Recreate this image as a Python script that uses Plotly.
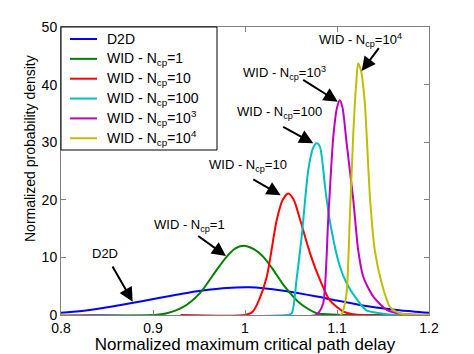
import plotly.graph_objects as go

# ---- data ----
d2d_x = [0.80, 0.82, 0.835, 0.871, 0.9076, 0.944, 0.96, 0.98, 1.005, 1.02, 1.042, 1.078, 1.10, 1.125, 1.147, 1.17, 1.20]
d2d_y = [0.4, 0.65, 0.95, 1.9, 3.0, 4.05, 4.4, 4.7, 4.8, 4.65, 4.2, 3.2, 2.5, 1.75, 1.2, 0.8, 0.4]

n1_x = [0.80, 0.90, 0.915, 0.933, 0.951, 0.969, 0.980, 0.990, 1.000, 1.010, 1.020, 1.030, 1.042, 1.060, 1.078, 1.100, 1.20]
n1_y = [0.0, 0.0, 0.3, 1.4, 3.8, 7.8, 10.1, 11.6, 12.0, 11.4, 10.1, 8.0, 5.2, 2.0, 0.3, 0.05, 0.0]

n10_x = [0.93, 1.000, 1.008, 1.015, 1.0236, 1.0345, 1.041, 1.047, 1.053, 1.060, 1.0707, 1.0815, 1.092, 1.107, 1.120, 1.20]
n10_y = [0.0, 0.0, 0.5, 2.5, 6.6, 16.5, 20.0, 21.1, 20.0, 16.5, 10.7, 6.1, 2.6, 0.6, 0.1, 0.0]

n100_x = [0.80, 1.045, 1.0507, 1.056, 1.0616, 1.0688, 1.074, 1.078, 1.0815, 1.087, 1.092, 1.103, 1.1105, 1.125, 1.132, 1.147, 1.160, 1.20]
n100_y = [0.0, 0.0, 0.3, 6.1, 13.6, 25.2, 29.0, 29.8, 29.2, 22.3, 16.5, 8.5, 5.5, 2.0, 0.8, 0.3, 0.05, 0.0]

n1e3_x = [0.80, 1.078, 1.0797, 1.085, 1.0906, 1.096, 1.100, 1.103, 1.106, 1.1105, 1.1177, 1.123, 1.1286, 1.1395, 1.154, 1.170, 1.20]
n1e3_y = [0.0, 0.0, 0.3, 2.0, 17.1, 31.0, 36.0, 37.3, 36.0, 29.8, 20.0, 11.3, 6.6, 3.2, 0.9, 0.2, 0.0]

n1e4_x = [0.80, 1.104, 1.107, 1.1105, 1.114, 1.1177, 1.121, 1.123, 1.126, 1.130, 1.136, 1.141, 1.1486, 1.1576, 1.168, 1.180, 1.20]
n1e4_y = [0.0, 0.0, 1.0, 4.0, 17.1, 31.5, 40.5, 43.7, 42.5, 37.3, 20.0, 11.3, 5.5, 1.4, 0.3, 0.05, 0.0]

names = ["D2D", "WID - N<sub>cp</sub>=1", "WID - N<sub>cp</sub>=10", "WID - N<sub>cp</sub>=100",
         "WID - N<sub>cp</sub>=10<sup>3</sup>", "WID - N<sub>cp</sub>=10<sup>4</sup>"]
colors = ["rgb(0,0,255)", "rgb(0,128,0)", "rgb(255,0,0)", "rgb(0,191,191)", "rgb(191,0,191)", "rgb(191,191,0)"]
series = [(d2d_x, d2d_y), (n1_x, n1_y), (n10_x, n10_y), (n100_x, n100_y), (n1e3_x, n1e3_y), (n1e4_x, n1e4_y)]

# annotation: (text, text_x, text_y, tail_x, tail_y, tip_x, tip_y)
annots = [
    ("D2D", 0.8478, 10.6, 0.8551, 8.68, 0.8779, 2.31),
    ("WID - N<sub>cp</sub>=1", 0.9402, 15.6, 0.9475, 13.9, 0.9793, 10.24),
    ("WID - N<sub>cp</sub>=10", 1.0033, 26.0, 1.0073, 23.7, 1.0388, 20.8),
    ("WID - N<sub>cp</sub>=100", 1.037, 35.1, 1.0399, 32.8, 1.0742, 29.8),
    ("WID - N<sub>cp</sub>=10<sup>3</sup>", 1.0424, 42.07, 1.0616, 40.97, 1.1008, 37.03),
    ("WID - N<sub>cp</sub>=10<sup>4</sup>", 1.1258, 47.74, 1.1467, 46.58, 1.1268, 42.36),
]

fig = go.Figure()
for (xs, ys), nm, c in zip(series, names, colors):
    fig.add_trace(go.Scatter(x=xs, y=ys, mode="lines", name=nm, showlegend=False,
                             line=dict(color=c, width=2, shape="spline", smoothing=0.7)))

for txt, tx, ty, ax, ay, px, py in annots:
    fig.add_annotation(x=tx, y=ty, xref="x", yref="y", text=txt, showarrow=False,
                       font=dict(size=13, color="black"))
    fig.add_annotation(x=px, y=py, xref="x", yref="y", ax=ax, ay=ay, axref="x", ayref="y",
                       text="", showarrow=True, arrowhead=2, arrowsize=1.4, arrowwidth=2,
                       arrowcolor="black")

# ---- legend box drawn in paper coordinates (plot area: 368 x 288 px) ----
PW, PH = 368.0, 288.0
def px_x(dx):
    return dx / PW
def px_y(dy):
    return 1 - dy / PH

fig.add_shape(type="rect", xref="paper", yref="paper", x0=0, x1=px_x(156), y0=px_y(123), y1=1,
              line=dict(color="black", width=1), fillcolor="white", layer="above")
for i, (nm, c) in enumerate(zip(names, colors)):
    ly = px_y(12 + i * 19.85)
    fig.add_shape(type="line", xref="paper", yref="paper", x0=px_x(9), x1=px_x(36), y0=ly, y1=ly,
                  line=dict(color=c, width=2), layer="above")
    fig.add_annotation(xref="paper", yref="paper", x=px_x(44), y=ly, text=nm, showarrow=False,
                       xanchor="left", yanchor="middle", font=dict(size=14, color="black"))

# y-axis title as text placed next to the axis
fig.add_annotation(xref="paper", yref="paper", x=px_x(-31), y=px_y(122), text="Normalized probability density",
                   textangle=-90, showarrow=False, xanchor="center", yanchor="middle",
                   font=dict(size=14, color="black"))

font_family = "Liberation Sans, Arial, sans-serif"
fig.update_layout(
    width=474, height=354,
    margin=dict(l=61, r=45, t=27, b=39, autoexpand=False),
    paper_bgcolor="white", plot_bgcolor="white",
    font=dict(family=font_family, size=14, color="black"),
    showlegend=False,
    xaxis=dict(range=[0.8, 1.2], tickvals=[0.8, 0.9, 1.0, 1.1, 1.2],
               ticktext=["0.8", "0.9", "1", "1.1", "1.2"], automargin=False,
               ticks="inside", ticklen=5, tickcolor="#808080", showline=True,
               linecolor="#808080", linewidth=1, mirror="ticks", showgrid=False, zeroline=False,
               title=dict(text="Normalized maximum critical path delay", standoff=2)),
    yaxis=dict(range=[0, 50], tickvals=[0, 10, 20, 30, 40, 50], automargin=False,
               ticks="inside", ticklen=5, tickcolor="#808080", showline=True,
               linecolor="#808080", linewidth=1, mirror="ticks", showgrid=False, zeroline=False),
)

fig.write_html("out.html")
